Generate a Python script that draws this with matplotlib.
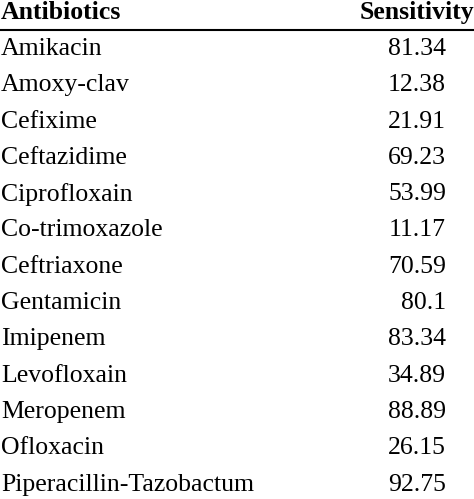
import matplotlib.pyplot as plt

antibiotics = ['Amikacin', 'Amoxy-clav', 'Cefixime', 'Ceftazidime', 'Ciprofloxain',
               'Co-trimoxazole', 'Ceftriaxone', 'Gentamicin', 'Imipenem', 'Levofloxain',
               'Meropenem', 'Ofloxacin', 'Piperacillin-Tazobactum']
sensitivity = ['81.34', '12.38', '21.91', '69.23', '53.99', '11.17', '70.59',
               '80.1', '83.34', '34.89', '88.89', '26.15', '92.75']

plt.rcParams['font.family'] = 'Liberation Serif'
W, H = 474, 499
fig = plt.figure(figsize=(W / 100, H / 100), dpi=100)
ax = fig.add_axes([0, 0, 1, 1])
ax.set_xlim(0, W)
ax.set_ylim(H, 0)
ax.axis('off')

fs = 18.5
ax.text(1, 12, 'Antibiotics', fontsize=fs, fontweight='bold', va='center', ha='left')
ax.text(474, 12, 'Sensitivity', fontsize=fs, fontweight='bold', va='center', ha='right')
ax.plot([0, W], [29.5, 29.5], color='black', lw=1.5)

y0, dy = 49, 36.3
for i, (name, val) in enumerate(zip(antibiotics, sensitivity)):
    y = y0 + i * dy
    ax.text(1, y, name, fontsize=fs, va='center', ha='left')
    ax.text(446, y, val, fontsize=fs, va='center', ha='right')

fig.savefig('out.png', dpi=100)
